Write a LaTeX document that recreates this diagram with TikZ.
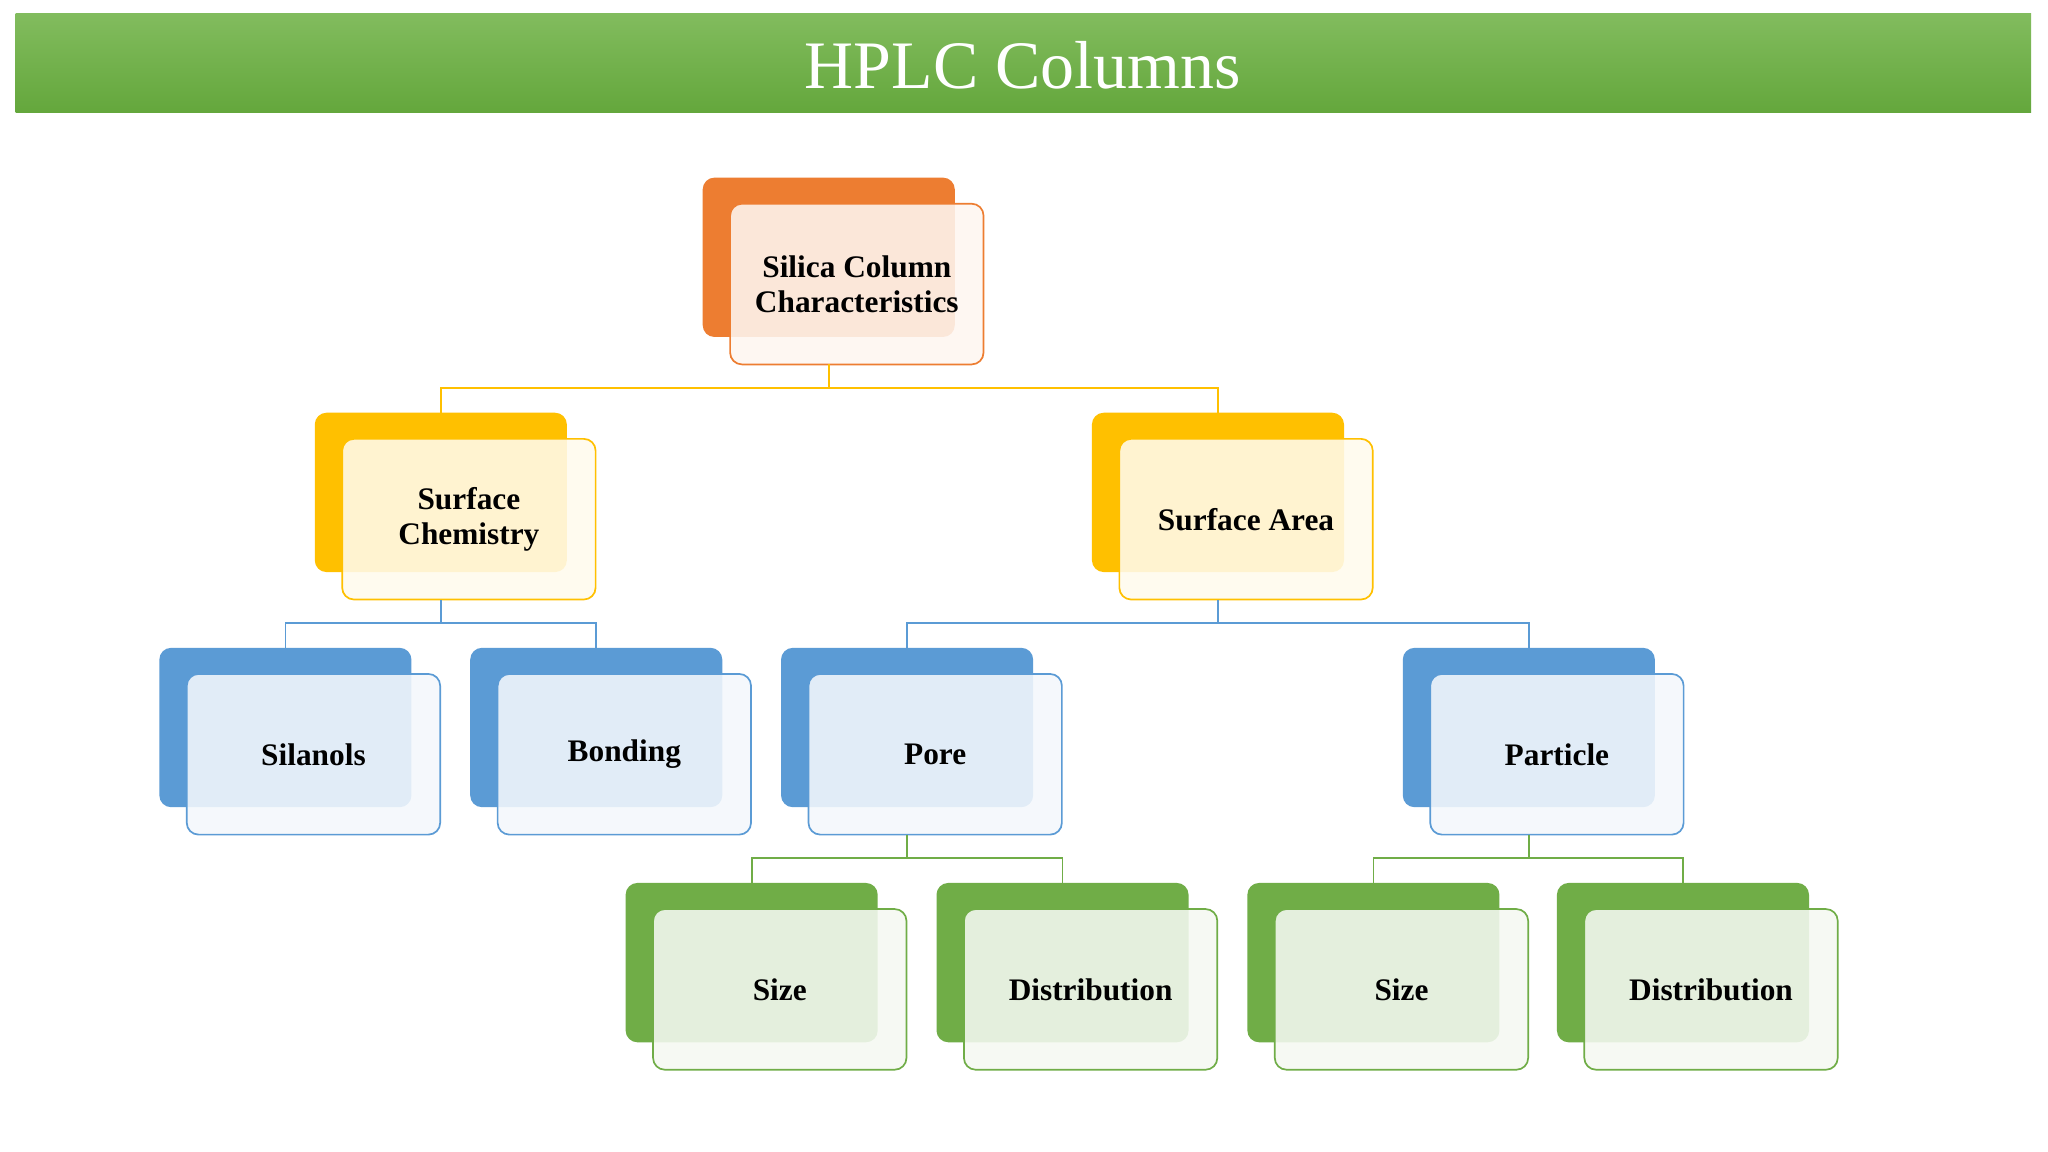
\documentclass[tikz,border=0pt]{standalone}
\usepackage{fontspec}
\setmainfont{Liberation Serif}
\definecolor{cOr}{HTML}{ED7D31}
\definecolor{cYe}{HTML}{FFC000}
\definecolor{cBl}{HTML}{5B9BD5}
\definecolor{cGr}{HTML}{70AD47}
\definecolor{tGa}{HTML}{82BC5E}
\definecolor{tGb}{HTML}{64A73C}
\begin{document}
\begin{tikzpicture}[x=1pt,y=-1pt,
  lbl/.style={font=\bfseries\fontsize{24}{27}\selectfont,align=center,text=black},
  conn/.style={line width=1.3pt}]
\useasboundingbox (0,0) rectangle (1568,882);
\fill[white] (0,0) rectangle (1568,882);
\shade[top color=tGa,bottom color=tGb] (12,10) rectangle (1555,86);
\node[text=white,font=\fontsize{52}{56}\selectfont] (title) at (783,50) {HPLC Columns};
\newcommand{\tbox}[5]{%
  \fill[#4,rounded corners=9pt] (#2-21,#3-20) rectangle (#2+172,#3+102);
  \draw[#4,line width=1.3pt,fill=#4!7,fill opacity=0.88,rounded corners=9pt] (#2,#3) rectangle (#2+194,#3+123);
  \coordinate (#1t) at (#2+75.5,#3-20);
  \coordinate (#1b) at (#2+75.5,#3+123);
  \node[lbl] (#1) at (#2+97,#3+61.5) {#5};}
\tbox{root}{559}{156}{cOr}{Silica Column\\Characteristics}
\tbox{sc}{262}{336}{cYe}{Surface\\Chemistry}
\tbox{sa}{857}{336}{cYe}{Surface Area}
\tbox{si}{143}{516}{cBl}{Silanols}
\tbox{bo}{381}{516}{cBl}{Bonding}
\tbox{po}{619}{516}{cBl}{Pore}
\tbox{pa}{1095}{516}{cBl}{Particle}
\tbox{s1}{500}{696}{cGr}{Size}
\tbox{d1}{738}{696}{cGr}{Distribution}
\tbox{s2}{976}{696}{cGr}{Size}
\tbox{d2}{1213}{696}{cGr}{Distribution}
\draw[conn,cYe] (rootb) -- ++(0,18) coordinate (rm);
\draw[conn,cYe] (sct) |- (rm) -| (sat);
\draw[conn,cBl] (scb) -- ++(0,18) coordinate (scm);
\draw[conn,cBl] (sit) |- (scm) -| (bot);
\draw[conn,cBl] (sab) -- ++(0,18) coordinate (sam);
\draw[conn,cBl] (pot) |- (sam) -| (pat);
\draw[conn,cGr] (pob) -- ++(0,18) coordinate (pom);
\draw[conn,cGr] (s1t) |- (pom) -| (d1t);
\draw[conn,cGr] (pab) -- ++(0,18) coordinate (pam);
\draw[conn,cGr] (s2t) |- (pam) -| (d2t);
\end{tikzpicture}
\end{document}
